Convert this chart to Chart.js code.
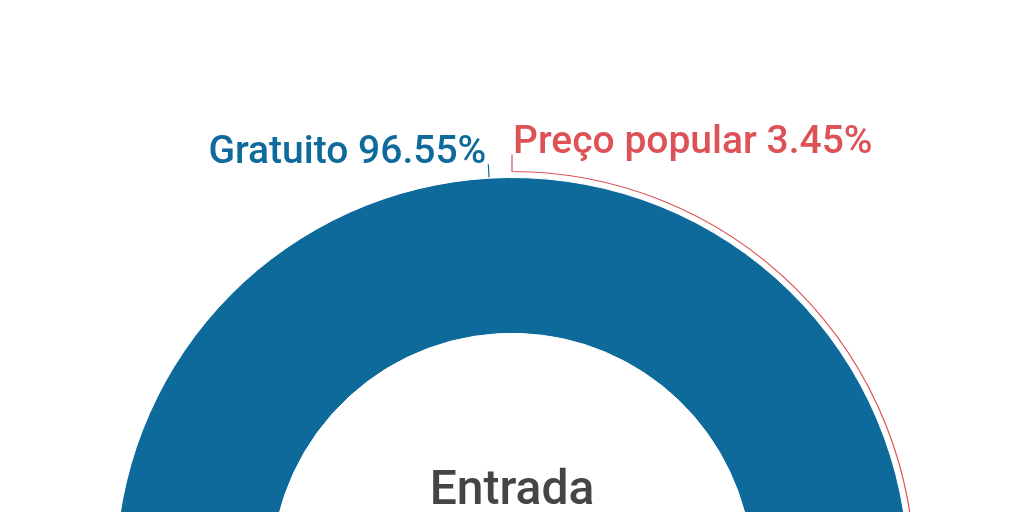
<!DOCTYPE html>
<html lang="pt">
<head>
  <meta charset="UTF-8">
  <title>Entrada</title>
  <script src="https://cdn.jsdelivr.net/npm/chart.js"></script>
  <style>
    html, body { margin: 0; padding: 0; background: #fff; overflow: hidden; }
    #wrap { position: relative; width: 1024px; height: 1148px; }
  </style>
</head>
<body>
  <div id="wrap">
    <canvas id="grafico"></canvas>
  </div>
  <script>
    // Dados do gráfico
    var categorias = ['Gratuito', 'Preço popular'];
    var valores = [96.55, 3.45];
    var cores = ['#0f6a9c', '#dd5257'];
    var titulo = 'Entrada';

    // Rótulos e linhas de ligação
    var rotulos = {
      id: 'rotulos',
      afterDatasetsDraw: function (chart) {
        var ctx = chart.ctx;
        var arcs = chart.getDatasetMeta(0).data;
        var a0 = arcs[0], a1 = arcs[1];
        var cx = a0.x, cy = a0.y, R = a0.outerRadius;
        var TAU = Math.PI * 2;
        ctx.save();
        ctx.font = '500 39px Roboto';
        ctx.lineWidth = 1.2;

        // Gratuito
        var m0 = (a0.startAngle + a0.endAngle) / 2;
        var x1 = cx + Math.cos(m0) * (R + 1), y1 = cy + Math.sin(m0) * (R + 1);
        var x2 = cx + Math.cos(m0) * (R + 14), y2 = cy + Math.sin(m0) * (R + 14);
        ctx.strokeStyle = cores[0];
        ctx.beginPath(); ctx.moveTo(x1, y1); ctx.lineTo(x2, y2); ctx.stroke();
        ctx.fillStyle = cores[0];
        ctx.textAlign = 'right';
        ctx.textBaseline = 'alphabetic';
        ctx.fillText(categorias[0] + ' ' + valores[0].toFixed(2) + '%', x2 - 2, y2 - 1);

        // Preço popular
        var m1 = (a1.startAngle + a1.endAngle) / 2;
        while (m1 > 1.5 * Math.PI) m1 -= TAU;
        while (m1 < -0.5 * Math.PI) m1 += TAU;
        var r2 = R + 6;
        ctx.strokeStyle = cores[1];
        ctx.beginPath();
        ctx.moveTo(cx, cy - r2 - 17);
        ctx.lineTo(cx, cy - r2);
        ctx.arc(cx, cy, r2, -Math.PI / 2, m1, false);
        ctx.stroke();
        ctx.fillStyle = cores[1];
        ctx.textAlign = 'left';
        ctx.fillText(categorias[1] + ' ' + valores[1].toFixed(2) + '%', cx + 1, cy - r2 - 19);

        // Título central
        ctx.font = '500 48px Roboto';
        ctx.fillStyle = '#454545';
        ctx.textAlign = 'center';
        ctx.fillText(titulo, cx, 504);
        ctx.restore();
      }
    };

    var grafico = new Chart(document.getElementById('grafico'), {
      type: 'doughnut',
      data: {
        labels: categorias,
        datasets: [{
          data: valores,
          backgroundColor: cores,
          borderColor: '#ffffff',
          borderWidth: 1
        }]
      },
      options: {
        responsive: true,
        maintainAspectRatio: false,
        animation: false,
        rotation: 182.9,
        cutout: '60.7%',
        layout: { padding: { left: 115, right: 115, top: 177, bottom: 177 } },
        plugins: {
          legend: { display: false },
          tooltip: { enabled: false }
        }
      },
      plugins: [rotulos]
    });
  </script>
</body>
</html>
